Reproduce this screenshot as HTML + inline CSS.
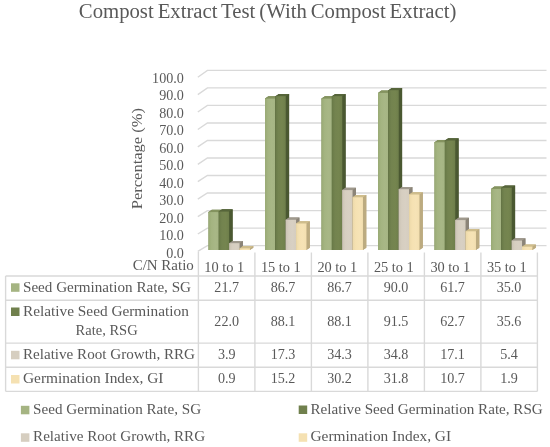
<!DOCTYPE html>
<html><head><meta charset="utf-8"><title>Compost Extract Test</title>
<style>
html,body{margin:0;padding:0;background:#fff;}
body{width:550px;height:447px;overflow:hidden;}
svg{display:block;}
text{font-family:"Liberation Serif","DejaVu Serif",serif;fill:#595959;}
.t{font-size:14px;}
.n{font-size:14.1px;}
</style></head><body>
<svg width="550" height="447" viewBox="0 0 550 447">
<defs>

<linearGradient id="gSG" x1="0" x2="1" y1="0" y2="0"><stop offset="0" stop-color="#99aa75"/><stop offset="0.3" stop-color="#a4b481"/><stop offset="0.65" stop-color="#a8b786"/><stop offset="1" stop-color="#a5b483"/></linearGradient>
<linearGradient id="gRSG" x1="0" x2="1" y1="0" y2="0"><stop offset="0" stop-color="#687947"/><stop offset="0.3" stop-color="#73834f"/><stop offset="0.65" stop-color="#75854f"/><stop offset="1" stop-color="#6e7e4b"/></linearGradient>
<linearGradient id="gRRG" x1="0" x2="1" y1="0" y2="0"><stop offset="0" stop-color="#cbc3b4"/><stop offset="0.3" stop-color="#d6cec0"/><stop offset="0.65" stop-color="#d8d0c3"/><stop offset="1" stop-color="#d5cdbf"/></linearGradient>
<linearGradient id="gGI" x1="0" x2="1" y1="0" y2="0"><stop offset="0" stop-color="#ecd9a9"/><stop offset="0.3" stop-color="#f5e1b2"/><stop offset="0.65" stop-color="#f6e3b6"/><stop offset="1" stop-color="#f3dfb0"/></linearGradient>
</defs>
<rect width="550" height="447" fill="#fff"/>
<text x="78.8" y="18" textLength="377.6" lengthAdjust="spacingAndGlyphs" style="font-size:20px;word-spacing:-1.2px">Compost Extract Test (With Compost Extract)</text>
<polyline points="197.8,251.4 207.4,245.6 546.5,245.6" fill="none" stroke="#d9d9d9" stroke-width="1.4"/>
<text class="n" x="183.8" y="257.8" text-anchor="end">0.0</text>
<polyline points="197.8,234.0 207.4,228.1 546.5,228.1" fill="none" stroke="#d9d9d9" stroke-width="1.4"/>
<text class="n" x="183.8" y="240.3" text-anchor="end">10.0</text>
<polyline points="197.8,216.6 207.4,210.6 546.5,210.6" fill="none" stroke="#d9d9d9" stroke-width="1.4"/>
<text class="n" x="183.8" y="222.8" text-anchor="end">20.0</text>
<polyline points="197.8,199.1 207.4,193.0 546.5,193.0" fill="none" stroke="#d9d9d9" stroke-width="1.4"/>
<text class="n" x="183.8" y="205.3" text-anchor="end">30.0</text>
<polyline points="197.8,181.7 207.4,175.5 546.5,175.5" fill="none" stroke="#d9d9d9" stroke-width="1.4"/>
<text class="n" x="183.8" y="187.8" text-anchor="end">40.0</text>
<polyline points="197.8,164.3 207.4,158.0 546.5,158.0" fill="none" stroke="#d9d9d9" stroke-width="1.4"/>
<text class="n" x="183.8" y="170.4" text-anchor="end">50.0</text>
<polyline points="197.8,146.9 207.4,140.5 546.5,140.5" fill="none" stroke="#d9d9d9" stroke-width="1.4"/>
<text class="n" x="183.8" y="152.9" text-anchor="end">60.0</text>
<polyline points="197.8,129.5 207.4,123.0 546.5,123.0" fill="none" stroke="#d9d9d9" stroke-width="1.4"/>
<text class="n" x="183.8" y="135.4" text-anchor="end">70.0</text>
<polyline points="197.8,112.0 207.4,105.4 546.5,105.4" fill="none" stroke="#d9d9d9" stroke-width="1.4"/>
<text class="n" x="183.8" y="117.9" text-anchor="end">80.0</text>
<polyline points="197.8,94.6 207.4,87.9 546.5,87.9" fill="none" stroke="#d9d9d9" stroke-width="1.4"/>
<text class="n" x="183.8" y="100.4" text-anchor="end">90.0</text>
<polyline points="197.8,77.2 207.4,70.4 546.5,70.4" fill="none" stroke="#d9d9d9" stroke-width="1.4"/>
<text class="n" x="183.8" y="82.9" text-anchor="end">100.0</text>
<text transform="translate(142.3,209.3) rotate(-90)" textLength="101.4" lengthAdjust="spacingAndGlyphs" style="font-size:15.4px">Percentage (%)</text>
<text x="132.7" y="269.8" textLength="61.1" lengthAdjust="spacingAndGlyphs" style="font-size:14px">C/N Ratio</text>
<polygon points="208.5,212.1 211.9,209.8 222.2,209.8 222.2,247.7 218.8,250.0 208.5,250.0" fill="#74834f"/>
<polygon points="217.8,212.1 218.8,212.1 222.2,209.8 222.2,247.7 218.8,250.0 217.8,250.0" fill="#74834f"/>
<polygon points="208.5,213.1 208.5,212.1 211.9,209.8 222.2,209.8 218.8,212.1 218.8,213.1" fill="#84935f"/>
<rect x="208.5" y="212.1" width="10.35" height="37.9" fill="url(#gSG)"/>
<polygon points="218.8,211.6 222.2,209.3 232.6,209.3 232.6,247.7 229.2,250.0 218.8,250.0" fill="#4a5831"/>
<polygon points="228.2,211.6 229.2,211.6 232.6,209.3 232.6,247.7 229.2,250.0 228.2,250.0" fill="#4a5831"/>
<polygon points="218.8,212.6 218.8,211.6 222.2,209.3 232.6,209.3 229.2,211.6 229.2,212.6" fill="#56653a"/>
<rect x="218.8" y="211.6" width="10.35" height="38.4" fill="url(#gRSG)"/>
<polygon points="229.2,243.2 232.6,240.9 242.9,240.9 242.9,247.7 239.5,250.0 229.2,250.0" fill="#8b8478"/>
<polygon points="238.5,243.2 239.5,243.2 242.9,240.9 242.9,247.7 239.5,250.0 238.5,250.0" fill="#8b8478"/>
<polygon points="229.2,244.2 229.2,243.2 232.6,240.9 242.9,240.9 239.5,243.2 239.5,244.2" fill="#9f998d"/>
<rect x="229.2" y="243.2" width="10.35" height="6.8" fill="url(#gRRG)"/>
<polygon points="239.6,248.4 243.0,246.1 253.3,246.1 253.3,247.7 249.9,250.0 239.6,250.0" fill="#bcab80"/>
<polygon points="248.9,248.4 249.9,248.4 253.3,246.1 253.3,247.7 249.9,250.0 248.9,250.0" fill="#bcab80"/>
<polygon points="239.6,249.4 239.6,248.4 243.0,246.1 253.3,246.1 249.9,248.4 249.9,249.4" fill="#cfbd8c"/>
<rect x="239.6" y="248.4" width="10.35" height="1.6" fill="url(#gGI)"/>
<polygon points="265.0,98.6 268.4,96.3 278.8,96.3 278.8,247.7 275.4,250.0 265.0,250.0" fill="#74834f"/>
<polygon points="274.4,98.6 275.4,98.6 278.8,96.3 278.8,247.7 275.4,250.0 274.4,250.0" fill="#74834f"/>
<polygon points="265.0,99.6 265.0,98.6 268.4,96.3 278.8,96.3 275.4,98.6 275.4,99.6" fill="#84935f"/>
<rect x="265.0" y="98.6" width="10.35" height="151.4" fill="url(#gSG)"/>
<polygon points="275.4,96.2 278.8,93.9 289.1,93.9 289.1,247.7 285.7,250.0 275.4,250.0" fill="#4a5831"/>
<polygon points="284.7,96.2 285.7,96.2 289.1,93.9 289.1,247.7 285.7,250.0 284.7,250.0" fill="#4a5831"/>
<polygon points="275.4,97.2 275.4,96.2 278.8,93.9 289.1,93.9 285.7,96.2 285.7,97.2" fill="#56653a"/>
<rect x="275.4" y="96.2" width="10.35" height="153.8" fill="url(#gRSG)"/>
<polygon points="285.7,219.8 289.1,217.5 299.4,217.5 299.4,247.7 296.1,250.0 285.7,250.0" fill="#8b8478"/>
<polygon points="295.1,219.8 296.1,219.8 299.4,217.5 299.4,247.7 296.1,250.0 295.1,250.0" fill="#8b8478"/>
<polygon points="285.7,220.8 285.7,219.8 289.1,217.5 299.4,217.5 296.1,219.8 296.1,220.8" fill="#9f998d"/>
<rect x="285.7" y="219.8" width="10.35" height="30.2" fill="url(#gRRG)"/>
<polygon points="296.1,223.5 299.4,221.2 309.8,221.2 309.8,247.7 306.4,250.0 296.1,250.0" fill="#bcab80"/>
<polygon points="305.4,223.5 306.4,223.5 309.8,221.2 309.8,247.7 306.4,250.0 305.4,250.0" fill="#bcab80"/>
<polygon points="296.1,224.5 296.1,223.5 299.4,221.2 309.8,221.2 306.4,223.5 306.4,224.5" fill="#cfbd8c"/>
<rect x="296.1" y="223.5" width="10.35" height="26.5" fill="url(#gGI)"/>
<polygon points="321.5,98.6 324.9,96.3 335.2,96.3 335.2,247.7 331.9,250.0 321.5,250.0" fill="#74834f"/>
<polygon points="330.9,98.6 331.9,98.6 335.2,96.3 335.2,247.7 331.9,250.0 330.9,250.0" fill="#74834f"/>
<polygon points="321.5,99.6 321.5,98.6 324.9,96.3 335.2,96.3 331.9,98.6 331.9,99.6" fill="#84935f"/>
<rect x="321.5" y="98.6" width="10.35" height="151.4" fill="url(#gSG)"/>
<polygon points="331.9,96.2 335.2,93.9 345.6,93.9 345.6,247.7 342.2,250.0 331.9,250.0" fill="#4a5831"/>
<polygon points="341.2,96.2 342.2,96.2 345.6,93.9 345.6,247.7 342.2,250.0 341.2,250.0" fill="#4a5831"/>
<polygon points="331.9,97.2 331.9,96.2 335.2,93.9 345.6,93.9 342.2,96.2 342.2,97.2" fill="#56653a"/>
<rect x="331.9" y="96.2" width="10.35" height="153.8" fill="url(#gRSG)"/>
<polygon points="342.2,190.1 345.6,187.8 355.9,187.8 355.9,247.7 352.6,250.0 342.2,250.0" fill="#8b8478"/>
<polygon points="351.6,190.1 352.6,190.1 355.9,187.8 355.9,247.7 352.6,250.0 351.6,250.0" fill="#8b8478"/>
<polygon points="342.2,191.1 342.2,190.1 345.6,187.8 355.9,187.8 352.6,190.1 352.6,191.1" fill="#9f998d"/>
<rect x="342.2" y="190.1" width="10.35" height="59.9" fill="url(#gRRG)"/>
<polygon points="352.6,197.3 355.9,195.0 366.3,195.0 366.3,247.7 362.9,250.0 352.6,250.0" fill="#bcab80"/>
<polygon points="361.9,197.3 362.9,197.3 366.3,195.0 366.3,247.7 362.9,250.0 361.9,250.0" fill="#bcab80"/>
<polygon points="352.6,198.3 352.6,197.3 355.9,195.0 366.3,195.0 362.9,197.3 362.9,198.3" fill="#cfbd8c"/>
<rect x="352.6" y="197.3" width="10.35" height="52.7" fill="url(#gGI)"/>
<polygon points="378.0,92.9 381.4,90.6 391.8,90.6 391.8,247.7 388.4,250.0 378.0,250.0" fill="#74834f"/>
<polygon points="387.4,92.9 388.4,92.9 391.8,90.6 391.8,247.7 388.4,250.0 387.4,250.0" fill="#74834f"/>
<polygon points="378.0,93.9 378.0,92.9 381.4,90.6 391.8,90.6 388.4,92.9 388.4,93.9" fill="#84935f"/>
<rect x="378.0" y="92.9" width="10.35" height="157.1" fill="url(#gSG)"/>
<polygon points="388.4,90.2 391.8,87.9 402.1,87.9 402.1,247.7 398.7,250.0 388.4,250.0" fill="#4a5831"/>
<polygon points="397.7,90.2 398.7,90.2 402.1,87.9 402.1,247.7 398.7,250.0 397.7,250.0" fill="#4a5831"/>
<polygon points="388.4,91.2 388.4,90.2 391.8,87.9 402.1,87.9 398.7,90.2 398.7,91.2" fill="#56653a"/>
<rect x="388.4" y="90.2" width="10.35" height="159.8" fill="url(#gRSG)"/>
<polygon points="398.7,189.2 402.1,186.9 412.4,186.9 412.4,247.7 409.1,250.0 398.7,250.0" fill="#8b8478"/>
<polygon points="408.1,189.2 409.1,189.2 412.4,186.9 412.4,247.7 409.1,250.0 408.1,250.0" fill="#8b8478"/>
<polygon points="398.7,190.2 398.7,189.2 402.1,186.9 412.4,186.9 409.1,189.2 409.1,190.2" fill="#9f998d"/>
<rect x="398.7" y="189.2" width="10.35" height="60.8" fill="url(#gRRG)"/>
<polygon points="409.1,194.5 412.4,192.2 422.8,192.2 422.8,247.7 419.4,250.0 409.1,250.0" fill="#bcab80"/>
<polygon points="418.4,194.5 419.4,194.5 422.8,192.2 422.8,247.7 419.4,250.0 418.4,250.0" fill="#bcab80"/>
<polygon points="409.1,195.5 409.1,194.5 412.4,192.2 422.8,192.2 419.4,194.5 419.4,195.5" fill="#cfbd8c"/>
<rect x="409.1" y="194.5" width="10.35" height="55.5" fill="url(#gGI)"/>
<polygon points="434.5,142.3 437.9,140.0 448.2,140.0 448.2,247.7 444.9,250.0 434.5,250.0" fill="#74834f"/>
<polygon points="443.9,142.3 444.9,142.3 448.2,140.0 448.2,247.7 444.9,250.0 443.9,250.0" fill="#74834f"/>
<polygon points="434.5,143.3 434.5,142.3 437.9,140.0 448.2,140.0 444.9,142.3 444.9,143.3" fill="#84935f"/>
<rect x="434.5" y="142.3" width="10.35" height="107.7" fill="url(#gSG)"/>
<polygon points="444.9,140.5 448.2,138.2 458.6,138.2 458.6,247.7 455.2,250.0 444.9,250.0" fill="#4a5831"/>
<polygon points="454.2,140.5 455.2,140.5 458.6,138.2 458.6,247.7 455.2,250.0 454.2,250.0" fill="#4a5831"/>
<polygon points="444.9,141.5 444.9,140.5 448.2,138.2 458.6,138.2 455.2,140.5 455.2,141.5" fill="#56653a"/>
<rect x="444.9" y="140.5" width="10.35" height="109.5" fill="url(#gRSG)"/>
<polygon points="455.2,220.1 458.6,217.8 468.9,217.8 468.9,247.7 465.6,250.0 455.2,250.0" fill="#8b8478"/>
<polygon points="464.6,220.1 465.6,220.1 468.9,217.8 468.9,247.7 465.6,250.0 464.6,250.0" fill="#8b8478"/>
<polygon points="455.2,221.1 455.2,220.1 458.6,217.8 468.9,217.8 465.6,220.1 465.6,221.1" fill="#9f998d"/>
<rect x="455.2" y="220.1" width="10.35" height="29.9" fill="url(#gRRG)"/>
<polygon points="465.6,231.3 468.9,229.0 479.3,229.0 479.3,247.7 475.9,250.0 465.6,250.0" fill="#bcab80"/>
<polygon points="474.9,231.3 475.9,231.3 479.3,229.0 479.3,247.7 475.9,250.0 474.9,250.0" fill="#bcab80"/>
<polygon points="465.6,232.3 465.6,231.3 468.9,229.0 479.3,229.0 475.9,231.3 475.9,232.3" fill="#cfbd8c"/>
<rect x="465.6" y="231.3" width="10.35" height="18.7" fill="url(#gGI)"/>
<polygon points="491.0,188.9 494.4,186.6 504.8,186.6 504.8,247.7 501.4,250.0 491.0,250.0" fill="#74834f"/>
<polygon points="500.4,188.9 501.4,188.9 504.8,186.6 504.8,247.7 501.4,250.0 500.4,250.0" fill="#74834f"/>
<polygon points="491.0,189.9 491.0,188.9 494.4,186.6 504.8,186.6 501.4,188.9 501.4,189.9" fill="#84935f"/>
<rect x="491.0" y="188.9" width="10.35" height="61.1" fill="url(#gSG)"/>
<polygon points="501.4,187.8 504.8,185.5 515.1,185.5 515.1,247.7 511.7,250.0 501.4,250.0" fill="#4a5831"/>
<polygon points="510.7,187.8 511.7,187.8 515.1,185.5 515.1,247.7 511.7,250.0 510.7,250.0" fill="#4a5831"/>
<polygon points="501.4,188.8 501.4,187.8 504.8,185.5 515.1,185.5 511.7,187.8 511.7,188.8" fill="#56653a"/>
<rect x="501.4" y="187.8" width="10.35" height="62.2" fill="url(#gRSG)"/>
<polygon points="511.7,240.6 515.1,238.3 525.4,238.3 525.4,247.7 522.0,250.0 511.7,250.0" fill="#8b8478"/>
<polygon points="521.0,240.6 522.0,240.6 525.4,238.3 525.4,247.7 522.0,250.0 521.0,250.0" fill="#8b8478"/>
<polygon points="511.7,241.6 511.7,240.6 515.1,238.3 525.4,238.3 522.0,240.6 522.0,241.6" fill="#9f998d"/>
<rect x="511.7" y="240.6" width="10.35" height="9.4" fill="url(#gRRG)"/>
<polygon points="522.0,246.7 525.4,244.4 535.8,244.4 535.8,247.7 532.4,250.0 522.0,250.0" fill="#bcab80"/>
<polygon points="531.4,246.7 532.4,246.7 535.8,244.4 535.8,247.7 532.4,250.0 531.4,250.0" fill="#bcab80"/>
<polygon points="522.0,247.7 522.0,246.7 525.4,244.4 535.8,244.4 532.4,246.7 532.4,247.7" fill="#cfbd8c"/>
<rect x="522.0" y="246.7" width="10.35" height="3.3" fill="url(#gGI)"/>
<line x1="5.6" x2="537.4" y1="276.0" y2="276.0" stroke="#d9d9d9" stroke-width="1.4"/>
<line x1="5.6" x2="537.4" y1="300.3" y2="300.3" stroke="#d9d9d9" stroke-width="1.4"/>
<line x1="5.6" x2="537.4" y1="343.1" y2="343.1" stroke="#d9d9d9" stroke-width="1.4"/>
<line x1="5.6" x2="537.4" y1="367.3" y2="367.3" stroke="#d9d9d9" stroke-width="1.4"/>
<line x1="5.6" x2="537.4" y1="391.4" y2="391.4" stroke="#d9d9d9" stroke-width="1.4"/>
<line x1="5.6" x2="5.6" y1="276.0" y2="391.4" stroke="#d9d9d9" stroke-width="1.4"/>
<line x1="198.4" x2="198.4" y1="251.7" y2="391.4" stroke="#d9d9d9" stroke-width="1.4"/>
<line x1="254.9" x2="254.9" y1="252.5" y2="391.4" stroke="#d9d9d9" stroke-width="1.4"/>
<line x1="311.4" x2="311.4" y1="252.5" y2="391.4" stroke="#d9d9d9" stroke-width="1.4"/>
<line x1="367.9" x2="367.9" y1="252.5" y2="391.4" stroke="#d9d9d9" stroke-width="1.4"/>
<line x1="424.4" x2="424.4" y1="252.5" y2="391.4" stroke="#d9d9d9" stroke-width="1.4"/>
<line x1="480.9" x2="480.9" y1="252.5" y2="391.4" stroke="#d9d9d9" stroke-width="1.4"/>
<line x1="537.4" x2="537.4" y1="252.5" y2="391.4" stroke="#d9d9d9" stroke-width="1.4"/>
<text class="n" x="204.3" y="271.6" textLength="39.9" lengthAdjust="spacingAndGlyphs" style="font-size:14px">10 to 1</text>
<text class="n" x="226.7" y="292.2" text-anchor="middle">21.7</text>
<text class="n" x="226.7" y="326.0" text-anchor="middle">22.0</text>
<text class="n" x="226.7" y="359.1" text-anchor="middle">3.9</text>
<text class="n" x="226.7" y="383.3" text-anchor="middle">0.9</text>
<text class="n" x="260.9" y="271.6" textLength="39.9" lengthAdjust="spacingAndGlyphs" style="font-size:14px">15 to 1</text>
<text class="n" x="283.1" y="292.2" text-anchor="middle">86.7</text>
<text class="n" x="283.1" y="326.0" text-anchor="middle">88.1</text>
<text class="n" x="283.1" y="359.1" text-anchor="middle">17.3</text>
<text class="n" x="283.1" y="383.3" text-anchor="middle">15.2</text>
<text class="n" x="317.4" y="271.6" textLength="39.9" lengthAdjust="spacingAndGlyphs" style="font-size:14px">20 to 1</text>
<text class="n" x="339.6" y="292.2" text-anchor="middle">86.7</text>
<text class="n" x="339.6" y="326.0" text-anchor="middle">88.1</text>
<text class="n" x="339.6" y="359.1" text-anchor="middle">34.3</text>
<text class="n" x="339.6" y="383.3" text-anchor="middle">30.2</text>
<text class="n" x="373.9" y="271.6" textLength="39.9" lengthAdjust="spacingAndGlyphs" style="font-size:14px">25 to 1</text>
<text class="n" x="396.1" y="292.2" text-anchor="middle">90.0</text>
<text class="n" x="396.1" y="326.0" text-anchor="middle">91.5</text>
<text class="n" x="396.1" y="359.1" text-anchor="middle">34.8</text>
<text class="n" x="396.1" y="383.3" text-anchor="middle">31.8</text>
<text class="n" x="430.4" y="271.6" textLength="39.9" lengthAdjust="spacingAndGlyphs" style="font-size:14px">30 to 1</text>
<text class="n" x="452.6" y="292.2" text-anchor="middle">61.7</text>
<text class="n" x="452.6" y="326.0" text-anchor="middle">62.7</text>
<text class="n" x="452.6" y="359.1" text-anchor="middle">17.1</text>
<text class="n" x="452.6" y="383.3" text-anchor="middle">10.7</text>
<text class="n" x="486.9" y="271.6" textLength="39.9" lengthAdjust="spacingAndGlyphs" style="font-size:14px">35 to 1</text>
<text class="n" x="509.1" y="292.2" text-anchor="middle">35.0</text>
<text class="n" x="509.1" y="326.0" text-anchor="middle">35.6</text>
<text class="n" x="509.1" y="359.1" text-anchor="middle">5.4</text>
<text class="n" x="509.1" y="383.3" text-anchor="middle">1.9</text>
<rect x="11.0" y="283.3" width="8.5" height="8.5" fill="#a5b482"/>
<text class="t" x="23.0" y="292" textLength="168" lengthAdjust="spacingAndGlyphs">Seed Germination Rate, SG</text>
<rect x="11.0" y="307.5" width="8.5" height="8.5" fill="#70804d"/>
<text class="t" x="23.0" y="316" textLength="165.8" lengthAdjust="spacingAndGlyphs">Relative Seed Germination</text>
<text class="t" x="75.6" y="335" textLength="62" lengthAdjust="spacingAndGlyphs">Rate, RSG</text>
<rect x="11.0" y="350.8" width="8.5" height="8.5" fill="#d6cec0"/>
<text class="t" x="23.0" y="359" textLength="172" lengthAdjust="spacingAndGlyphs">Relative Root Growth, RRG</text>
<rect x="11.0" y="375.0" width="8.5" height="8.5" fill="#f5e1b2"/>
<text class="t" x="23.0" y="383" textLength="140.5" lengthAdjust="spacingAndGlyphs">Germination Index, GI</text>
<rect x="20.9" y="405.8" width="8.5" height="8.5" fill="#a5b482"/>
<text class="t" x="33.1" y="414" textLength="168" lengthAdjust="spacingAndGlyphs">Seed Germination Rate, SG</text>
<rect x="20.9" y="433.3" width="8.5" height="8.5" fill="#d6cec0"/>
<text class="t" x="33.1" y="441" textLength="172" lengthAdjust="spacingAndGlyphs">Relative Root Growth, RRG</text>
<rect x="298.7" y="405.5" width="8.5" height="8.5" fill="#70804d"/>
<text class="t" x="310.5" y="414" textLength="232.3" lengthAdjust="spacingAndGlyphs">Relative Seed Germination Rate, RSG</text>
<rect x="298.7" y="433.3" width="8.5" height="8.5" fill="#f5e1b2"/>
<text class="t" x="310.5" y="441" textLength="140.6" lengthAdjust="spacingAndGlyphs">Germination Index, GI</text>
</svg></body></html>
